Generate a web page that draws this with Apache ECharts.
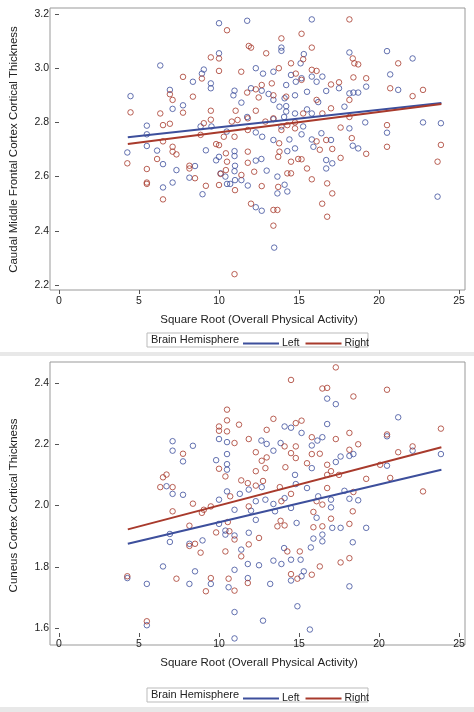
<!DOCTYPE html>
<html>
<head>
<meta charset="utf-8">
<script src="https://cdn.jsdelivr.net/npm/echarts@6/dist/echarts.min.js"></script>
<style>html,body{margin:0;padding:0;background:#fff}#main{width:474px;height:712px}</style>
</head>
<body>
<div id="main"></div>
<script>
// top panel: caudal middle frontal
var topLeftPts = [[10.0,3.166],[11.76,3.175],[15.8,3.18],[6.33,3.01],[10.0,3.055],[18.15,3.058],[20.5,3.063],[22.1,3.036],[13.9,3.076],[13.9,3.064],[15.3,3.052],[15.1,3.018],[12.3,3.0],[9.05,2.995],[8.93,2.98],[8.37,2.95],[9.49,2.944],[9.49,2.926],[4.47,2.897],[6.93,2.92],[7.75,2.863],[7.1,2.85],[5.49,2.788],[5.49,2.756],[5.49,2.713],[4.27,2.689],[6.13,2.696],[6.5,2.646],[6.5,2.56],[7.1,2.578],[7.34,2.624],[8.15,2.596],[8.5,2.639],[8.97,2.535],[9.18,2.697],[8.85,2.785],[9.53,2.785],[9.82,2.66],[10.0,2.673],[10.1,2.612],[10.4,2.6],[10.5,2.573],[10.7,2.573],[11.0,2.587],[11.4,2.587],[11.8,2.567],[10.97,2.62],[11.0,2.64],[10.97,2.694],[10.97,2.676],[10.48,2.766],[10.9,2.9],[10.97,2.917],[11.4,2.873],[11.76,2.82],[12.3,2.763],[12.0,2.926],[12.67,2.917],[13.1,2.905],[13.4,2.883],[12.75,2.98],[13.4,2.987],[14.2,2.938],[14.5,2.975],[14.8,2.95],[15.16,2.963],[15.8,2.969],[16.46,2.969],[16.1,2.95],[15.5,2.913],[14.75,2.9],[14.1,2.889],[13.78,2.858],[14.2,2.84],[14.75,2.833],[15.5,2.848],[16.2,2.875],[16.7,2.916],[17.5,2.926],[18.15,2.907],[18.4,2.91],[18.7,2.91],[19.2,2.932],[20.7,2.977],[21.2,2.92],[17.84,2.858],[19.14,2.8],[18.15,2.778],[20.5,2.762],[22.75,2.8],[23.87,2.797],[23.66,2.526],[18.36,2.714],[18.7,2.704],[17.08,2.649],[16.7,2.63],[16.7,2.661],[17.0,2.735],[16.4,2.76],[15.9,2.71],[15.8,2.737],[15.16,2.756],[14.4,2.737],[14.27,2.694],[14.75,2.704],[14.1,2.57],[14.27,2.545],[13.65,2.538],[13.65,2.6],[13.4,2.735],[12.7,2.747],[12.65,2.665],[12.98,2.622],[12.3,2.659],[12.3,2.487],[12.67,2.474],[13.45,2.338],[13.4,2.812],[13.9,2.785],[14.07,2.82],[14.2,2.86],[15.26,2.785],[15.8,2.833]];
var topRightPts = [[10.5,3.14],[18.15,3.18],[13.9,3.11],[15.16,3.127],[15.26,3.033],[15.8,3.076],[12.95,3.055],[11.86,3.082],[12.0,3.076],[10.0,3.036],[9.49,3.04],[10.0,2.99],[11.39,2.987],[13.74,3.0],[14.5,3.018],[15.8,2.994],[16.1,2.99],[18.36,3.036],[18.46,3.018],[18.7,3.014],[21.2,3.018],[19.2,2.963],[18.4,2.966],[20.7,2.926],[22.1,2.897],[22.75,2.92],[17.5,2.948],[17.0,2.94],[15.16,2.957],[14.8,2.98],[13.3,2.944],[12.67,2.938],[12.3,2.922],[11.76,2.91],[8.93,2.962],[7.75,2.968],[6.93,2.904],[7.1,2.883],[8.37,2.895],[6.33,2.833],[4.47,2.837],[7.75,2.836],[9.49,2.843],[9.49,2.81],[9.05,2.797],[6.5,2.79],[6.93,2.795],[8.85,2.754],[6.5,2.73],[6.13,2.665],[7.1,2.71],[7.1,2.692],[7.34,2.682],[4.27,2.649],[5.49,2.628],[5.49,2.578],[5.49,2.573],[6.5,2.516],[8.15,2.64],[8.15,2.63],[8.5,2.594],[9.18,2.566],[10.0,2.569],[10.1,2.61],[9.82,2.72],[10.0,2.716],[10.43,2.686],[10.5,2.655],[10.43,2.624],[11.0,2.55],[11.4,2.606],[11.8,2.651],[11.8,2.692],[12.2,2.618],[12.0,2.5],[12.67,2.565],[13.4,2.477],[13.65,2.477],[13.4,2.419],[10.97,2.24],[13.7,2.562],[13.7,2.673],[13.78,2.692],[13.76,2.723],[14.5,2.655],[14.95,2.665],[15.16,2.664],[15.5,2.63],[15.8,2.59],[14.27,2.612],[14.5,2.612],[16.76,2.575],[16.45,2.5],[16.76,2.452],[17.08,2.538],[17.6,2.669],[18.3,2.742],[19.2,2.684],[20.5,2.71],[20.5,2.79],[23.66,2.655],[23.87,2.717],[17.08,2.702],[16.7,2.735],[16.3,2.699],[16.1,2.73],[17.6,2.781],[18.15,2.82],[18.15,2.883],[17.0,2.852],[16.46,2.833],[16.1,2.883],[14.75,2.8],[14.27,2.79],[13.9,2.772],[13.4,2.815],[12.9,2.803],[12.3,2.843],[11.8,2.815],[11.8,2.772],[11.04,2.843],[10.8,2.803],[10.3,2.747],[10.97,2.747],[11.16,2.809],[12.48,2.892],[14.2,2.895],[15.26,2.833],[14.75,2.778],[13.4,2.9]];
var topLeftFit = [[4.3,2.745],[23.9,2.872]];
var topRightFit = [[4.3,2.72],[23.9,2.868]];

// bottom panel: cuneus
var botLeftPts = [[4.27,1.763],[5.49,1.744],[5.49,1.609],[6.5,1.801],[6.72,2.063],[7.1,2.21],[7.1,2.179],[7.1,2.038],[6.93,1.907],[6.93,1.881],[7.75,2.144],[7.75,2.035],[8.37,2.195],[8.15,1.875],[8.15,1.744],[8.5,1.785],[8.97,1.886],[9.49,1.744],[9.82,2.148],[10.0,2.217],[10.0,2.019],[10.0,1.94],[10.4,1.918],[10.4,1.905],[10.5,2.135],[10.5,2.117],[10.5,2.168],[10.5,2.207],[10.5,2.046],[10.6,1.733],[10.97,1.652],[10.97,1.566],[10.97,1.79],[10.97,1.902],[10.97,1.986],[11.3,2.038],[11.39,1.856],[11.8,1.809],[11.8,1.763],[11.86,1.911],[12.0,1.983],[11.86,2.052],[12.3,2.014],[12.3,1.953],[12.5,1.805],[12.65,2.212],[12.98,2.201],[12.75,1.624],[12.67,2.06],[12.9,2.019],[13.2,1.744],[13.4,2.179],[13.4,1.82],[13.4,2.005],[13.5,1.981],[13.9,1.809],[13.85,2.204],[14.1,2.258],[14.5,2.254],[14.07,1.861],[14.5,1.823],[14.5,1.755],[14.9,1.671],[14.75,2.1],[14.8,2.07],[14.5,1.992],[14.85,1.943],[15.16,2.237],[15.1,1.823],[15.3,1.785],[15.16,1.769],[15.68,1.595],[15.74,1.863],[15.9,1.892],[15.8,2.122],[15.8,2.196],[16.46,2.223],[16.15,2.212],[15.5,2.057],[16.2,2.03],[16.46,1.905],[16.46,1.883],[16.76,2.349],[17.3,2.331],[16.76,2.266],[17.3,2.142],[17.6,2.16],[17.0,2.019],[17.0,1.994],[17.08,1.927],[17.6,1.927],[18.15,1.736],[18.15,2.162],[18.4,2.168],[18.36,1.88],[18.15,2.022],[18.7,2.017],[19.2,1.927],[20.5,2.13],[20.5,2.226],[21.2,2.288],[22.1,2.179],[23.87,2.168],[17.84,2.048],[16.1,1.96],[14.1,2.024]];
var botRightPts = [[4.27,1.769],[5.49,1.622],[6.33,2.06],[6.5,2.092],[6.72,2.101],[7.1,2.06],[7.1,1.981],[7.34,1.761],[7.75,2.169],[8.15,1.934],[8.15,1.868],[8.5,1.875],[8.37,2.006],[8.85,1.846],[8.93,1.976],[9.05,1.986],[9.18,1.72],[9.49,1.763],[9.49,1.997],[9.82,1.912],[10.0,2.258],[10.0,2.244],[10.0,2.12],[10.4,2.095],[10.4,1.85],[10.5,2.313],[10.5,2.278],[10.5,2.242],[10.55,1.946],[10.65,1.916],[10.6,1.761],[10.7,2.03],[10.97,2.204],[10.97,1.889],[10.97,1.722],[11.25,2.264],[11.39,2.082],[11.39,1.834],[11.8,2.073],[11.86,2.217],[11.8,1.747],[11.86,1.997],[11.86,1.873],[12.3,2.174],[12.3,2.112],[12.3,2.065],[12.5,1.894],[12.67,2.146],[12.75,2.08],[12.98,2.247],[12.98,2.157],[12.9,2.122],[13.4,2.283],[13.65,1.932],[13.8,2.06],[13.9,2.014],[13.85,1.95],[14.1,2.193],[14.15,2.125],[14.1,1.935],[14.27,1.85],[14.5,2.41],[14.5,2.171],[14.5,2.038],[14.5,1.776],[14.8,2.269],[14.8,2.193],[14.8,2.155],[15.16,2.277],[15.05,1.85],[14.9,1.761],[15.5,2.138],[15.8,2.168],[15.8,2.223],[15.9,1.979],[15.9,1.929],[15.8,1.774],[16.1,2.014],[16.3,1.801],[16.3,2.169],[16.46,2.382],[16.76,2.384],[16.76,2.133],[16.76,2.1],[16.76,2.057],[17.0,2.112],[17.0,1.957],[17.3,2.217],[17.5,2.1],[17.6,1.814],[17.3,2.451],[18.15,2.237],[18.15,2.182],[18.15,1.94],[18.15,1.828],[18.36,1.981],[18.4,2.356],[18.7,2.2],[18.4,2.044],[19.2,2.087],[20.5,2.378],[20.5,2.232],[20.07,2.133],[20.7,2.09],[21.2,2.174],[22.1,2.193],[22.75,2.046],[23.87,2.251],[16.46,2.003],[16.46,1.932]];
var botLeftFit = [[4.3,1.875],[23.9,2.117]];
var botRightFit = [[4.3,1.922],[23.9,2.19]];

var xTicks = [0, 5, 10, 15, 20, 25];
var blue = '#3d4f9c';
var red = '#a83a2c';
var font = 'Liberation Sans, Arial, sans-serif';

var myChart = echarts.init(document.getElementById('main'));

function xAx(gi) {
    return {
        gridIndex: gi, type: 'value', min: 0, max: 25, interval: 5, offset: 5,
        name: 'Square Root (Overall Physical Activity)', nameLocation: 'middle', nameGap: 24,
        nameTextStyle: { color: '#222', fontSize: 11.5, fontFamily: font },
        axisLine: { show: false },
        axisTick: { show: true, length: 4, lineStyle: { color: '#555' } },
        axisLabel: { color: '#222', fontSize: 10.5, fontFamily: font, margin: 6 },
        splitLine: { show: false }
    };
}
function yAx(gi, min, max, nm) {
    return {
        gridIndex: gi, type: 'value', min: min, max: max, interval: 0.2, offset: 5,
        name: nm, nameLocation: 'middle', nameGap: 34,
        nameTextStyle: { color: '#222', fontSize: 11.5, fontFamily: font },
        axisLine: { show: false },
        axisTick: { show: true, length: 4, lineStyle: { color: '#555' } },
        axisLabel: { color: '#222', fontSize: 10.5, fontFamily: font, margin: 5, formatter: function (v) { return v.toFixed(1); } },
        splitLine: { show: false }
    };
}
function pts(name, gi, data, color) {
    return {
        name: name, type: 'scatter', xAxisIndex: gi, yAxisIndex: gi, data: data, clip: false,
        symbol: 'circle', symbolSize: 5.5,
        itemStyle: { color: 'rgba(0,0,0,0)', borderColor: color, borderWidth: 1 }
    };
}
function fit(name, gi, data, color) {
    return {
        name: name, type: 'line', xAxisIndex: gi, yAxisIndex: gi, data: data, symbol: 'none',
        lineStyle: { color: color, width: 2 }, itemStyle: { color: color }, z: 5
    };
}
function legend(top) {
    return {
        data: ['Left', 'Right'], left: 238, top: top, icon: 'rect', itemWidth: 36, itemHeight: 2,
        itemGap: 6, textStyle: { color: '#222', fontSize: 10.5, fontFamily: font, padding: [0, 0, 0, -2] }, selectedMode: false
    };
}

var option = {
    backgroundColor: '#fff',
    animation: false,
    grid: [
        { left: 55, top: 14, width: 404, height: 271 },
        { left: 55, top: 383, width: 404, height: 245 }
    ],
    xAxis: [xAx(0), xAx(1)],
    yAxis: [yAx(0, 2.2, 3.2, 'Caudal Middle Frontal Cortex Cortical Thickness'), yAx(1, 1.6, 2.4, 'Cuneus Cortex Cortical Thickness')],
    legend: [legend(333), legend(688)],
    graphic: [
        { type: 'rect', shape: { x: 50, y: 8, width: 415, height: 282 }, style: { fill: 'none', stroke: '#999', lineWidth: 1 } },
        { type: 'rect', shape: { x: 50, y: 362, width: 415, height: 283 }, style: { fill: 'none', stroke: '#999', lineWidth: 1 } },
        { type: 'rect', shape: { x: 147, y: 333, width: 221, height: 14 }, style: { fill: 'none', stroke: '#bbb', lineWidth: 1 } },
        { type: 'rect', shape: { x: 147, y: 688, width: 221, height: 14 }, style: { fill: 'none', stroke: '#bbb', lineWidth: 1 } },
        { type: 'text', left: 151, top: 334, style: { text: 'Brain Hemisphere', fill: '#222', fontSize: 11, fontFamily: font } },
        { type: 'text', left: 151, top: 689, style: { text: 'Brain Hemisphere', fill: '#222', fontSize: 11, fontFamily: font } },
        { type: 'rect', shape: { x: 0, y: 352, width: 474, height: 4 }, style: { fill: '#e8e8e8' } },
        { type: 'rect', shape: { x: 0, y: 707, width: 474, height: 5 }, style: { fill: '#e8e8e8' } }
    ],
    series: [
        pts('Left pts top', 0, topLeftPts, blue),
        pts('Right pts top', 0, topRightPts, red),
        fit('Left', 0, topLeftFit, blue),
        fit('Right', 0, topRightFit, red),
        pts('Left pts bot', 1, botLeftPts, blue),
        pts('Right pts bot', 1, botRightPts, red),
        fit('Left', 1, botLeftFit, blue),
        fit('Right', 1, botRightFit, red)
    ]
};
myChart.setOption(option);
</script>
</body>
</html>
